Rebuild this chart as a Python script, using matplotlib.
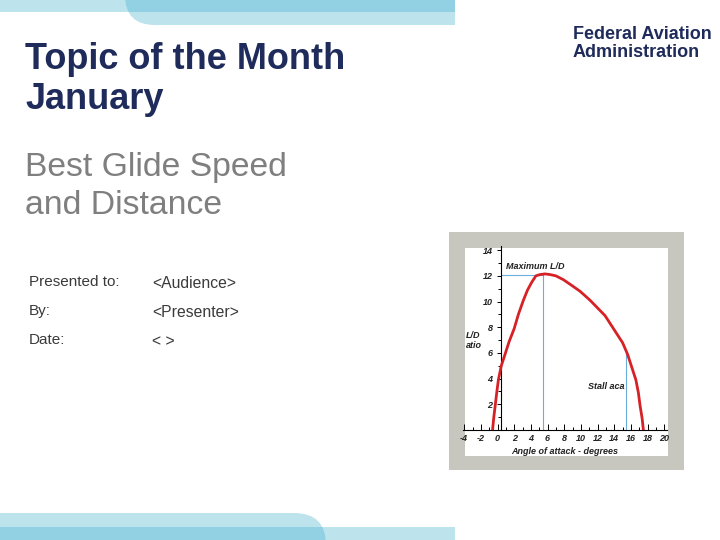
import matplotlib
matplotlib.use('Agg')
import matplotlib.pyplot as plt
from matplotlib.patches import Rectangle, FancyBboxPatch

plt.rcParams['font.family'] = ['Liberation Sans', 'DejaVu Sans']
plt.rcParams['axes.unicode_minus'] = False

# slide text
title_lines = ['Topic of the Month', 'January']
subtitle_lines = ['Best Glide Speed', 'and Distance']
info_labels = ['Presented to:', 'By:', 'Date:']
info_values = ['<Audience>', '<Presenter>', '< >']
agency_lines = ['Federal Aviation', 'Administration']

# L/D curve (angle of attack in degrees, L/D ratio)
aoa = [-0.6, -0.45, -0.3, -0.1, 0.1, 0.45, 0.9, 1.4, 2.0, 2.5, 3.1, 3.6, 4.1, 4.6, 5.1,
       5.7, 6.3, 7.0, 7.9, 8.8, 9.9, 11.1, 12.0, 12.9, 13.9, 14.5, 15.0, 15.6, 16.1,
       16.6, 16.9, 17.1, 17.35, 17.5]
ld_ratio = [0.0, 1.0, 1.8, 2.9, 3.9, 5.0, 5.9, 6.9, 7.9, 9.0, 10.1, 10.9, 11.5, 12.0, 12.1,
            12.15, 12.1, 12.0, 11.7, 11.3, 10.8, 10.1, 9.5, 8.9, 7.9, 7.3, 6.8, 5.9, 4.9,
            3.9, 2.9, 1.9, 0.9, 0.0]
max_ld_aoa, max_ld = 5.5, 12.1
stall_aoa, stall_ld = 15.4, 6.2
x_ticks = list(range(-4, 21, 2))
y_ticks = list(range(2, 15, 2))

navy = '#1e2b5b'
light_blue = '#bde3ed'
dark_blue = '#92d1e3'
ink = '#222222'

fig = plt.figure(figsize=(7.2, 5.4), dpi=100)
bg = fig.add_axes([0, 0, 1, 1])
bg.set_xlim(0, 720)
bg.set_ylim(540, 0)
bg.axis('off')

# top band
bg.add_patch(Rectangle((0, 0), 455, 12, color=light_blue, lw=0))
top_round = FancyBboxPatch((125, -60), 400, 85, boxstyle='round,pad=0,rounding_size=30',
                           color=light_blue, lw=0)
bg.add_patch(top_round)
top_round.set_clip_path(Rectangle((0, 0), 455, 540, transform=bg.transData))
dark_top = Rectangle((0, 0), 455, 12, color=dark_blue, lw=0)
bg.add_patch(dark_top)
dark_top.set_clip_path(top_round)

# bottom band
bg.add_patch(Rectangle((0, 527), 455, 13, color=light_blue, lw=0))
bot_round = FancyBboxPatch((-60, 513), 386, 90, boxstyle='round,pad=0,rounding_size=32',
                           color=light_blue, lw=0)
bg.add_patch(bot_round)
dark_bot = Rectangle((0, 527), 455, 13, color=dark_blue, lw=0)
bg.add_patch(dark_bot)
dark_bot.set_clip_path(bot_round)

# texts
for i, line in enumerate(title_lines):
    bg.text(25, 69 + 40 * i, line, fontsize=26, fontweight='bold', color=navy, va='baseline')
for i, line in enumerate(subtitle_lines):
    bg.text(25, 176 + 38 * i, line, fontsize=24.3, color='#7f7f7f', va='baseline')
for i, (lab, val) in enumerate(zip(info_labels, info_values)):
    bg.text(29, 286 + 29 * i, lab, fontsize=11, color='#3a3a3a', va='baseline')
    bg.text(152, 288 + 29 * i, val, fontsize=11.3, color='#3a3a3a', va='baseline')
for i, line in enumerate(agency_lines):
    bg.text(573, 39 + 18 * i, line, fontsize=13, fontweight='bold', color=navy, va='baseline')

# picture frame
bg.add_patch(Rectangle((449, 232), 235, 238, color='#c8c7bf', lw=0))
bg.add_patch(Rectangle((465, 248), 203, 208, color='white', lw=0))
bg.text(466, 335, 'L/D', fontsize=6.5, fontweight='bold', style='italic', color=ink, va='center')
bg.text(466, 345, 'atio', fontsize=6.5, fontweight='bold', style='italic', color=ink, va='center')

# chart
ax = fig.add_axes([0.6436, 0.2037, 0.2824, 0.3402])
ax.patch.set_alpha(0)
ax.set_xlim(-4.1, 20.3)
ax.set_ylim(0, 14.3)
ax.plot(aoa, ld_ratio, color='#d62226', lw=2.0, zorder=3)
ax.plot([0.4, max_ld_aoa], [max_ld, max_ld], color='#6aaedc', lw=0.8)
ax.plot([max_ld_aoa, max_ld_aoa], [0, max_ld], color='#6aaedc', lw=0.8)
ax.plot([stall_aoa, stall_aoa], [0, stall_ld], color='#6aaedc', lw=0.8)
ax.text(1.0, 12.7, 'Maximum L/D', fontsize=6.5, fontweight='bold', style='italic', color=ink, va='center')
ax.text(10.9, 3.4, 'Stall aca', fontsize=6.5, fontweight='bold', style='italic', color=ink, va='center')

for s in ['top', 'right']:
    ax.spines[s].set_visible(False)
ax.spines['left'].set_position(('data', 0.4))
ax.spines['left'].set_linewidth(0.8)
ax.spines['bottom'].set_linewidth(0.8)
ax.set_xticks(x_ticks)
ax.set_xticks(range(-3, 20, 2), minor=True)
ax.set_yticks(y_ticks)
ax.set_yticks(range(1, 14, 2), minor=True)
ax.tick_params(axis='x', direction='in', length=4, width=0.7, pad=3, labelsize=6.5)
ax.tick_params(axis='x', which='minor', direction='in', length=2.5, width=0.7)
ax.tick_params(axis='y', direction='out', length=3, width=0.7, pad=3, labelsize=6.5)
ax.tick_params(axis='y', which='minor', direction='out', length=2, width=0.7)
for t in ax.get_xticklabels() + ax.get_yticklabels():
    t.set_fontweight('bold')
    t.set_fontstyle('italic')
    t.set_color(ink)
ax.set_xlabel('Angle of attack - degrees', fontsize=6.5, fontweight='bold', style='italic',
              color=ink, labelpad=3)

fig.savefig('out.png', dpi=100)
